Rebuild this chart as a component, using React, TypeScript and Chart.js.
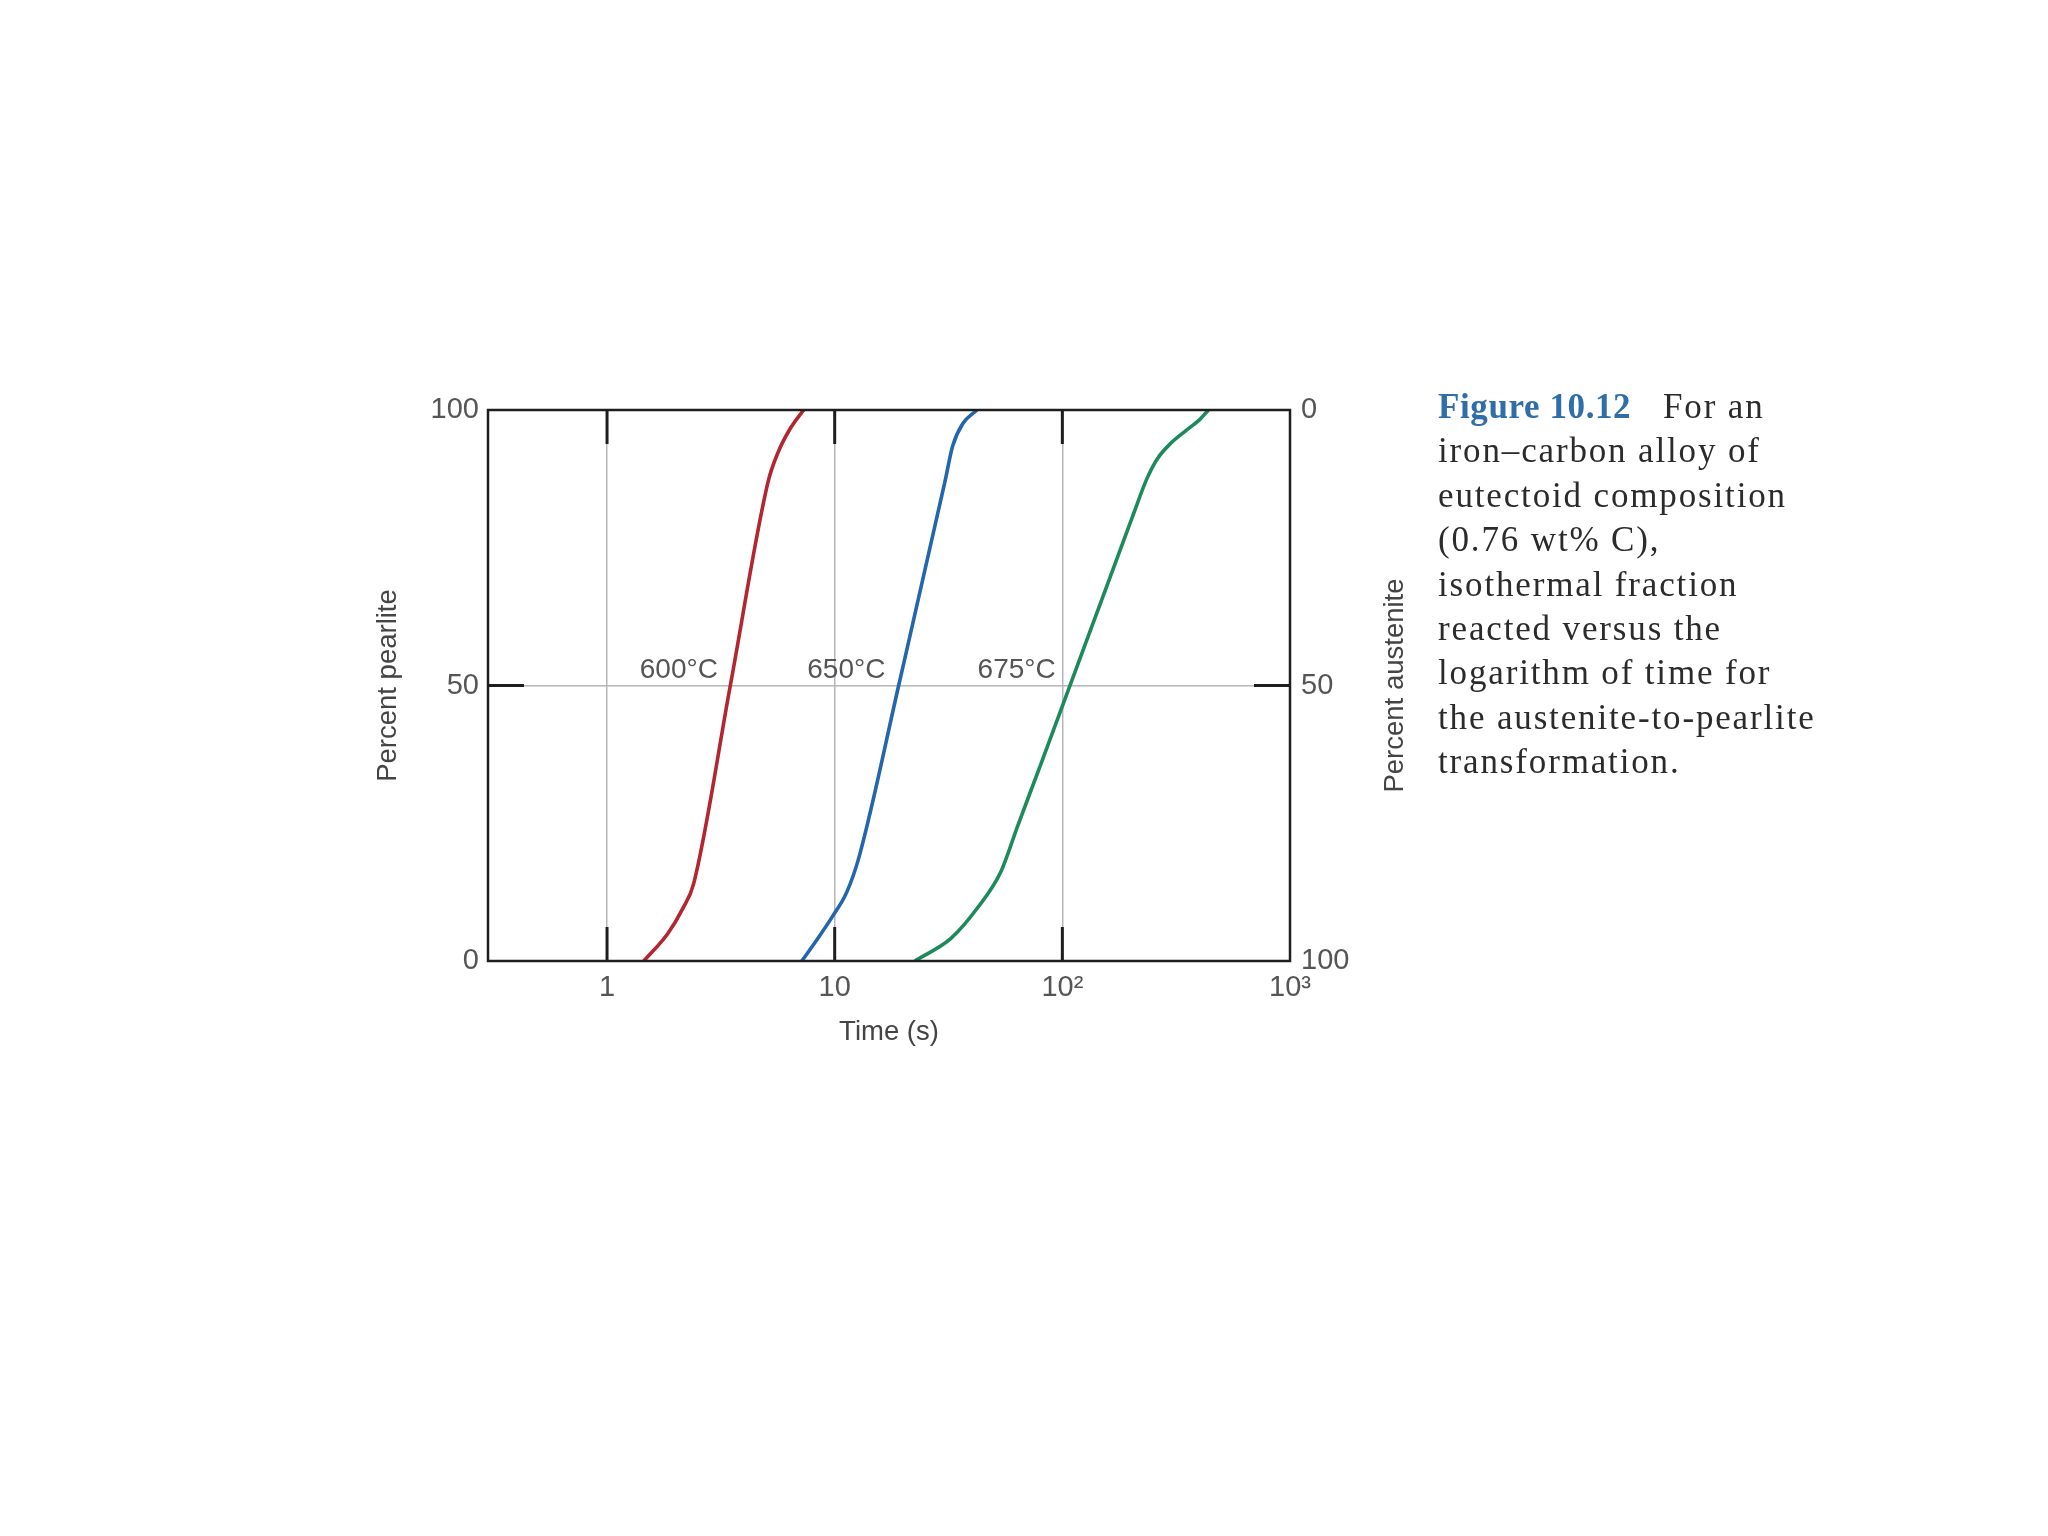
import React, { useEffect, useRef } from "react";
import { Chart, registerables } from "chart.js";

Chart.register(...registerables);

// ---------- data ----------
const xTickValues = [1, 10, 100, 1000];
const xTickLabels = ["1", "10", "10²", "10³"];
const yTickValues = [0, 50, 100];
const leftTickLabels = ["0", "50", "100"];
const rightTickLabels = ["0", "50", "100"];

const time600 = [1.45, 1.85, 2.15, 2.4, 3.48, 5.1, 5.6, 6.35, 7.3];
const pct600 = [0, 5, 9.5, 14, 50, 87, 92, 96.5, 100];

const time650 = [7.17, 8.4, 9.75, 11.3, 12.8, 19.1, 30.5, 33.0, 36.5, 42.2];
const pct650 = [0, 4, 8, 12.5, 18.9, 50, 87, 93.5, 97.5, 100];

const time675 = [22.5, 32.4, 42.5, 53.7, 63.5, 80.4, 128.5, 168, 205.6, 235, 262, 300, 350, 400, 438];
const pct675 = [0, 4.1, 9.7, 16.2, 24.4, 35.7, 58.4, 71.4, 81.2, 87.5, 91.2, 94.0, 96.3, 98.2, 100];

const curveLabels = ["600°C", "650°C", "675°C"];
const curveLabelTimes = [3.07, 16.7, 93.5];

const xTitle = "Time (s)";
const leftTitle = "Percent pearlite";
const rightTitle = "Percent austenite";

const captionHead = "Figure 10.12";
const captionFirst = "For an";
const captionLines = [
  "iron–carbon alloy of",
  "eutectoid composition",
  "(0.76 wt% C),",
  "isothermal fraction",
  "reacted versus the",
  "logarithm of time for",
  "the austenite-to-pearlite",
  "transformation.",
];

// ---------- styles ----------
const curveColors = ["#b3262f", "#2466ae", "#1d8a5c"];
const SANS = "'Liberation Sans', Arial, Helvetica, sans-serif";
const TICK_COLOR = "#555555";
const GRID_COLOR = "#b6b6bc";
const FRAME_COLOR = "#1e1e1e";

const toPoints = (xs: number[], ys: number[]) => xs.map((x, i) => ({ x, y: ys[i] }));

const framePlugin = {
  id: "framePlugin",
  afterDatasetsDraw(chart: any) {
    const { ctx, chartArea } = chart;
    const { left, right, top, bottom } = chartArea;
    const xs = chart.scales.x;
    const ys = chart.scales.y;
    ctx.save();
    // inner tick marks
    ctx.strokeStyle = FRAME_COLOR;
    ctx.lineWidth = 3;
    ctx.beginPath();
    xTickValues.forEach((v) => {
      if (v >= 1000) return;
      const px = xs.getPixelForValue(v);
      ctx.moveTo(px, bottom);
      ctx.lineTo(px, bottom - 34);
      ctx.moveTo(px, top);
      ctx.lineTo(px, top + 34);
    });
    const p50 = ys.getPixelForValue(50);
    ctx.moveTo(left, p50);
    ctx.lineTo(left + 36, p50);
    ctx.moveTo(right, p50);
    ctx.lineTo(right - 36, p50);
    ctx.stroke();
    // frame
    ctx.lineWidth = 2.5;
    ctx.strokeRect(left, top, right - left, bottom - top);

    // curve labels
    ctx.fillStyle = TICK_COLOR;
    ctx.font = `28px ${SANS}`;
    ctx.textAlign = "right";
    ctx.textBaseline = "bottom";
    curveLabels.forEach((t, i) => {
      ctx.fillText(t, xs.getPixelForValue(curveLabelTimes[i]), p50 - 1);
    });

    // axis titles
    ctx.fillStyle = "#444444";
    ctx.font = `27.5px ${SANS}`;
    ctx.textAlign = "center";
    ctx.textBaseline = "middle";
    ctx.fillText(xTitle, (left + right) / 2, bottom + 71);
    const cy = (top + bottom) / 2;
    ctx.save();
    ctx.translate(left - 100, cy);
    ctx.rotate(-Math.PI / 2);
    ctx.fillText(leftTitle, 0, 0);
    ctx.restore();
    ctx.save();
    ctx.translate(right + 105, cy);
    ctx.rotate(-Math.PI / 2);
    ctx.fillText(rightTitle, 0, 0);
    ctx.restore();
    ctx.restore();
  },
};

export default function App() {
  const canvasRef = useRef<HTMLCanvasElement | null>(null);

  useEffect(() => {
    if (!canvasRef.current) return;
    const tickFont = { family: SANS, size: 29 };
    const chart = new Chart(canvasRef.current, {
      type: "line",
      data: {
        datasets: [
          { label: curveLabels[0], data: toPoints(time600, pct600), borderColor: curveColors[0] },
          { label: curveLabels[1], data: toPoints(time650, pct650), borderColor: curveColors[1] },
          { label: curveLabels[2], data: toPoints(time675, pct675), borderColor: curveColors[2] },
        ].map((d) => ({
          ...d,
          borderWidth: 3.6,
          pointRadius: 0,
          fill: false,
          cubicInterpolationMode: "monotone" as const,
        })),
      },
      options: {
        animation: false,
        responsive: false,
        layout: { padding: { top: 410, left: 288, right: 608, bottom: 475 } },
        plugins: { legend: { display: false }, tooltip: { enabled: false } },
        scales: {
          x: {
            type: "logarithmic",
            min: 0.31,
            max: 1000,
            afterBuildTicks: (scale: any) => {
              scale.ticks = xTickValues.map((v) => ({ value: v }));
            },
            afterFit: (scale: any) => {
              scale.height = 100;
            },
            ticks: {
              autoSkip: false,
              maxRotation: 0,
              padding: 10,
              color: TICK_COLOR,
              font: tickFont,
              callback: (_v: any, i: number) => xTickLabels[i],
            },
            grid: {
              drawTicks: false,
              lineWidth: 1.5,
              color: (ctx: any) => (ctx.tick && ctx.tick.value >= 1000 ? "rgba(0,0,0,0)" : GRID_COLOR),
            },
            border: { display: false },
          },
          y: {
            type: "linear",
            position: "left",
            min: 0,
            max: 100,
            afterBuildTicks: (scale: any) => {
              scale.ticks = yTickValues.map((v) => ({ value: v }));
            },
            afterFit: (scale: any) => {
              scale.width = 200;
            },
            ticks: {
              padding: 9,
              color: TICK_COLOR,
              font: tickFont,
              callback: (_v: any, i: number) => leftTickLabels[i],
            },
            grid: {
              drawTicks: false,
              lineWidth: 1.5,
              color: (ctx: any) => (ctx.tick && ctx.tick.value === 50 ? GRID_COLOR : "rgba(0,0,0,0)"),
            },
            border: { display: false },
          },
          y2: {
            type: "linear",
            position: "right",
            reverse: true,
            min: 0,
            max: 100,
            afterBuildTicks: (scale: any) => {
              scale.ticks = yTickValues.map((v) => ({ value: v }));
            },
            afterFit: (scale: any) => {
              scale.width = 150;
            },
            ticks: {
              padding: 11,
              color: TICK_COLOR,
              font: tickFont,
              callback: (_v: any, i: number) => rightTickLabels[i],
            },
            grid: { display: false, drawTicks: false },
            border: { display: false },
          },
        },
      } as any,
      plugins: [framePlugin],
    });
    return () => chart.destroy();
  }, []);

  return (
    <div style={{ position: "fixed", left: 0, top: 0, width: 2048, height: 1536, background: "#ffffff" }}>
      <canvas ref={canvasRef} width={2048} height={1536} style={{ width: 2048, height: 1536, display: "block" }} />
      <div
        style={{
          position: "absolute",
          left: 1438,
          top: 385,
          fontFamily: "'Liberation Serif', 'Times New Roman', serif",
          fontSize: 35,
          lineHeight: "44.4px",
          letterSpacing: "1.85px",
          color: "#2b2b2b",
          whiteSpace: "nowrap",
        }}
      >
        <div>
          <span style={{ color: "#2f6ea9", fontWeight: "bold", letterSpacing: "0.6px" }}>{captionHead}</span>
          <span>{"\u00a0\u00a0\u00a0" + captionFirst}</span>
        </div>
        {captionLines.map((l, i) => (
          <div key={i}>{l}</div>
        ))}
      </div>
    </div>
  );
}
